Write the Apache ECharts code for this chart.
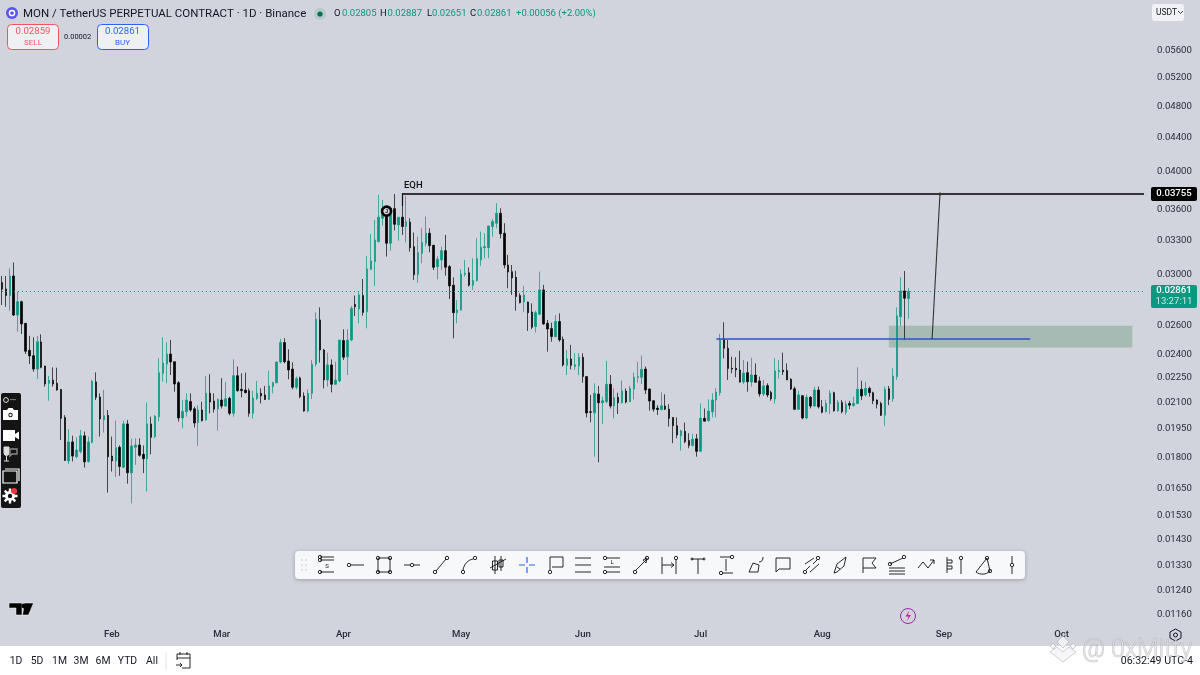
<!DOCTYPE html>
<html><head><meta charset="utf-8"><style>html,body{margin:0;padding:0;background:#d1d4dc}#c{width:1200px;height:675px}</style>
<script src="https://cdn.jsdelivr.net/npm/echarts@6/dist/echarts.min.js"></script></head><body><div id="c"></div>
<script>
const opens=[.02932,.02881,.02828,.02987,.02678,.02780,.02617,.02427,.02391,.02303,.02484,.02323,.02213,.02232,.02213,.02176,.02012,.01782,.01879,.01803,.01829,.01911,.01779,.01877,.02222,.02130,.01998,.02024,.01806,.01782,.01851,.01751,.01976,.01724,.01851,.01863,.01815,.01793,.01976,.01907,.02016,.02276,.02336,.02402,.02351,.02217,.02009,.02044,.02104,.02061,.01983,.02054,.01998,.02152,.02106,.02061,.02112,.02077,.02122,.02035,.02261,.02176,.02172,.02168,.02035,.02122,.02152,.02142,.02116,.02193,.02217,.02349,.02480,.02355,.02303,.02189,.02246,.02136,.02048,.02152,.02336,.02642,.02429,.02234,.02330,.02207,.02228,.02494,.02384,.02498,.02759,.02724,.02828,.02704,.03043,.03110,.03288,.03510,.03592,.03273,.03605,.03445,.03520,.03429,.03471,.03242,.03000,.03182,.03273,.03366,.03255,.03066,.03124,.03206,.03066,.02911,.02696,.02716,.03000,.03014,.02911,.02949,.03124,.03233,.03233,.03429,.03461,.03559,.03366,.03080,.03023,.02976,.02828,.02780,.02777,.02701,.02593,.02684,.02873,.02617,.02579,.02522,.02630,.02503,.02327,.02369,.02319,.02323,.02380,.02255,.02044,.02039,.02148,.02096,.02102,.02207,.02077,.02128,.02096,.02166,.02102,.02178,.02251,.02251,.02303,.02178,.02108,.02065,.02056,.02077,.02059,.02012,.01966,.01912,.01936,.01886,.01861,.01895,.01830,.02007,.01994,.02044,.02112,.02156,.02503,.02441,.02308,.02308,.02297,.02221,.02280,.02221,.02265,.02228,.02148,.02199,.02158,.02118,.02286,.02295,.02293,.02238,.02180,.02058,.02138,.02009,.02128,.02077,.02172,.02073,.02044,.02092,.02156,.02050,.02098,.02041,.02092,.02080,.02092,.02176,.02142,.02182,.02156,.02112,.02092,.02024,.02180,.02120,.02255,.02666,.02865,.02805];
const closes=[.02878,.02828,.02987,.02678,.02780,.02612,.02420,.02389,.02303,.02486,.02314,.02209,.02232,.02209,.02172,.02007,.01784,.01879,.01806,.01837,.01911,.01777,.01879,.02226,.02128,.02003,.02022,.01803,.01782,.01848,.01754,.01976,.01724,.01858,.01863,.01810,.01793,.01976,.01903,.02020,.02280,.02342,.02402,.02349,.02209,.02009,.02046,.02112,.02054,.01981,.02054,.01994,.02152,.02100,.02059,.02116,.02077,.02120,.02035,.02261,.02168,.02168,.02156,.02035,.02124,.02152,.02136,.02116,.02197,.02217,.02349,.02480,.02351,.02297,.02189,.02242,.02132,.02048,.02152,.02334,.02647,.02429,.02234,.02330,.02207,.02234,.02498,.02380,.02498,.02728,.02741,.02833,.02698,.03046,.03115,.03303,.03520,.03559,.03273,.03609,.03451,.03520,.03429,.03477,.03233,.02997,.03188,.03279,.03366,.03251,.03060,.03130,.03206,.03060,.02905,.02696,.02716,.03003,.03009,.02911,.02949,.03135,.03236,.03242,.03435,.03477,.03559,.03360,.03080,.03020,.02971,.02820,.02772,.02833,.02696,.02588,.02696,.02873,.02612,.02576,.02522,.02630,.02498,.02329,.02369,.02327,.02331,.02380,.02255,.02037,.02041,.02152,.02096,.02108,.02207,.02077,.02126,.02096,.02166,.02100,.02182,.02251,.02255,.02301,.02172,.02106,.02059,.02057,.02078,.02059,.02007,.01966,.01916,.01938,.01880,.01860,.01893,.01830,.02007,.01991,.02048,.02112,.02160,.02503,.02441,.02306,.02303,.02297,.02221,.02276,.02223,.02265,.02219,.02148,.02197,.02142,.02120,.02291,.02295,.02286,.02234,.02178,.02058,.02142,.02009,.02128,.02077,.02172,.02073,.02041,.02092,.02152,.02050,.02098,.02044,.02088,.02082,.02092,.02176,.02136,.02182,.02156,.02108,.02088,.02024,.02176,.02116,.02259,.02671,.02865,.02807,.02861];
const highs=[.02987,.02987,.03052,.03101,.02860,.02788,.02617,.02527,.02517,.02527,.02538,.02323,.02259,.02314,.02312,.02176,.02025,.01947,.01912,.01903,.01943,.01934,.01907,.02234,.02282,.02152,.02172,.02054,.01907,.01994,.01861,.01994,.01998,.01896,.01898,.01898,.01860,.02098,.02016,.02026,.02373,.02517,.02482,.02498,.02351,.02226,.02112,.02152,.02152,.02073,.02082,.02102,.02259,.02270,.02152,.02122,.02245,.02221,.02132,.02366,.02319,.02276,.02280,.02182,.02168,.02228,.02182,.02197,.02293,.02223,.02351,.02505,.02510,.02434,.02347,.02255,.02255,.02158,.02176,.02362,.02698,.02736,.02436,.02411,.02366,.02351,.02498,.02574,.02574,.02746,.02828,.02854,.02962,.03159,.03359,.03493,.03746,.03694,.03609,.03626,.03756,.03520,.03746,.03736,.03510,.03372,.03334,.03413,.03526,.03413,.03257,.03159,.03242,.03350,.03080,.02976,.02793,.03043,.03124,.03060,.03138,.03318,.03381,.03366,.03435,.03500,.03660,.03609,.03461,.03168,.03080,.03031,.02846,.02905,.02780,.02767,.02711,.03023,.02914,.02642,.02622,.02678,.02691,.02522,.02429,.02464,.02407,.02407,.02407,.02255,.02142,.02213,.02197,.02132,.02356,.02265,.02182,.02156,.02230,.02182,.02197,.02280,.02351,.02391,.02319,.02182,.02112,.02082,.02158,.02146,.02088,.02012,.02012,.01943,.01983,.01925,.01921,.01921,.02092,.02063,.02116,.02152,.02182,.02541,.02625,.02498,.02384,.02380,.02424,.02362,.02351,.02377,.02340,.02255,.02234,.02213,.02168,.02373,.02362,.02411,.02340,.02245,.02193,.02168,.02142,.02146,.02136,.02193,.02193,.02112,.02112,.02172,.02162,.02112,.02112,.02108,.02108,.02132,.02314,.02230,.02223,.02193,.02162,.02116,.02102,.02193,.02197,.02308,.02736,.02976,.03029,.02887];
const lows=[.02754,.02741,.02711,.02671,.02557,.02540,.02402,.02336,.02286,.02240,.02308,.02193,.02108,.02193,.02168,.01889,.01782,.01767,.01779,.01795,.01820,.01749,.01773,.01872,.02112,.01907,.01929,.01631,.01730,.01703,.01709,.01746,.01672,.01583,.01762,.01803,.01722,.01636,.01815,.01898,.01989,.02223,.02213,.02265,.02162,.01989,.01952,.02016,.02044,.01956,.01858,.01989,.01994,.02035,.02039,.01939,.02063,.02073,.02024,.02016,.02162,.02128,.02152,.02016,.02005,.02112,.02092,.02112,.02112,.02152,.02213,.02340,.02340,.02238,.02176,.02176,.02122,.02044,.02041,.02118,.02319,.02345,.02182,.02193,.02158,.02203,.02219,.02362,.02265,.02489,.02671,.02617,.02673,.02581,.03037,.02905,.03282,.03439,.03153,.03206,.03391,.03297,.03350,.03282,.03197,.02954,.02932,.03095,.03242,.03191,.03037,.02960,.03037,.02990,.02801,.02510,.02617,.02711,.02982,.02900,.02873,.02941,.03072,.03138,.03138,.03334,.03413,.03318,.03052,.02886,.02833,.02711,.02767,.02703,.02562,.02574,.02550,.02678,.02605,.02418,.02486,.02517,.02486,.02319,.02265,.02301,.02297,.02265,.02217,.02012,.01985,.01803,.01775,.01975,.02092,.02063,.02007,.02031,.02092,.02092,.02102,.02116,.02217,.02209,.02148,.02050,.02044,.02026,.02054,.02054,.01961,.01872,.01898,.01834,.01872,.01846,.01854,.01803,.01829,.01989,.01989,.02012,.02012,.02138,.02373,.02234,.02276,.02251,.02217,.02209,.02162,.02193,.02217,.02132,.02136,.02128,.02108,.02092,.02242,.02265,.02234,.02172,.02054,.02054,.02001,.02001,.02063,.02073,.02063,.02035,.02041,.02031,.02044,.02044,.02035,.02026,.02059,.02073,.02088,.02112,.02132,.02132,.02088,.02063,.02020,.01966,.02082,.02102,.02234,.02598,.02498,.02651];
const yTicks=[0.056,0.052,0.048,0.044,0.04,0.036,0.033,0.03,0.026,0.024,0.0225,0.021,0.0195,0.018,0.0165,0.0153,0.0143,0.0133,0.0124,0.0116];
const monthNames={'02-01':'Feb','03-01':'Mar','04-01':'Apr','05-01':'May','06-01':'Jun','07-01':'Jul','08-01':'Aug','09-01':'Sep','10-01':'Oct'};
const eqh=0.03755, last=0.02861, blueLevel=0.02505, zoneTop=0.026, zoneBottom=0.02446, markerPrice=0.0358;
const rangeLabels=[['1D',16],['5D',37],['1M',59.5],['3M',81],['6M',103],['YTD',127.5],['All',152]];

const categories=[];
{const d=new Date(Date.UTC(2025,0,4));for(let i=0;i<292;i++){categories.push(d.toISOString().slice(5,10));d.setUTCDate(d.getUTCDate()+1);}}
const candleData=opens.map((o,i)=>[o,closes[i],lows[i],highs[i]]);
const teal='#089981',ink='#131722',bg='#d1d4dc',F='Roboto, sans-serif';
const G=[];let shapeNo=0;
const T=(text,x,y,size,fill,o={})=>G.push({type:'text',x,y,z:50,silent:true,style:{text,fill,font:(o.w||'400')+' '+size+'px '+(o.f||F),textAlign:o.a||'left',textVerticalAlign:'middle',opacity:o.op==null?1:o.op}});
const R=(x,y,w,h,fill,o={})=>G.push({type:'rect',x,y,z:o.z||40,silent:true,shape:{x:0,y:0,width:w,height:h,r:o.r||0},style:{fill,stroke:o.s||null,lineWidth:o.lw||1,shadowBlur:o.sb||0,shadowColor:'rgba(0,0,0,.25)',shadowOffsetY:o.sb?1:0}});
const C=(x,y,r,fill,o={})=>G.push({type:'circle',x,y,z:o.z||45,silent:true,shape:{cx:0,cy:0,r},style:{fill,stroke:o.s||null,lineWidth:o.lw||1,opacity:o.op==null?1:o.op}});
const P=(d,x,y,o={})=>{const name='ic'+(shapeNo++);echarts.graphic.registerShape(name,echarts.graphic.extendPath(d,{}));
 G.push({type:name,x,y,z:o.z||45,silent:true,style:{fill:o.fill||'none',stroke:o.s===undefined?'#111':o.s,lineWidth:o.lw||1,opacity:o.op==null?1:o.op}});};
const dot=(x,y,r=1.7)=>`M${x-r} ${y}a${r} ${r} 0 1 0 ${2*r} 0a${r} ${r} 0 1 0 ${-2*r} 0`;

// header
C(12,13,6,'#5b55f0');C(12,13,2.6,'none',{s:'#fff',lw:1.5});
T('MON / TetherUS PERPETUAL CONTRACT · 1D · Binance',23,14,11.5,ink);
C(320,14,6,'#b3ccc6');C(320,14,2.6,'#0b6b5b');
const ohlc=[['O',334,ink],['0.02805',342,teal],['H',380,ink],['0.02887',387.5,teal],['L',427,ink],['0.02651',432,teal],['C',470,ink],['0.02861',477,teal],['+0.00056 (+2.00%)',516,teal]];
ohlc.forEach(a=>T(a[0],a[1],14,9.5,a[2]));
R(7.5,24.5,51,25,'#eef0f4',{r:4,s:'#f7525f'});T('0.02859',33,32,9.6,'#f7525f',{a:'center'});T('SELL',33,43,8,'#f7525f',{a:'center'});
T('0.00002',64,37,7.5,ink);
R(97.5,24.5,51,25,'#eef0f4',{r:4,s:'#2962ff'});T('0.02861',122.5,32,9.6,'#2962ff',{a:'center'});T('BUY',122.5,43,8,'#2962ff',{a:'center'});
// right scale
R(1152,4,32,17,'#f1f2f5',{r:3});T('USDT',1156,12.5,8.5,ink);P('M1178 11l2.5 2.5l2.5 -2.5',0,0,{lw:.8});
R(1151,187,46,14,'#000',{r:2});T('0.03755',1174,194,9.6,'#fff',{a:'center',w:'500'});
R(1151,285,46,23,teal,{r:2});T('0.02861',1174,291,9.6,'#fff',{a:'center',w:'500'});T('13:27:11',1174,302,9.6,'#cfeae4',{a:'center'});
// eqh
T('EQH',404,186,9.5,'#111',{w:'500'});
P('M402.5 193V206',0,0,{lw:1.2,z:20});
// left tools
R(1,393,20,115,'#141414',{r:2});
C(6,400,2.4,'none',{s:'#ddd',lw:1});T('•••',10,400,6,'#ccc');
P('M3 410h4l1.5-2h4l1.5 2h4v10h-15z',0,0,{fill:'#fff',s:null});C(10.5,415,2.2,'#141414');C(10.5,415,1.2,'#fff');
P('M3 430h12v11h-12zM15 434l4-2.5v8l-4-2.5z',0,0,{fill:'#fff',s:null});
P('M4 447h5v6a2.5 2.5 0 0 1-5 0zM6.5 456v5M4 461h5',0,0,{fill:'#ddd',s:'#ddd'});P('M10 449h7v5h-5l-2 2z',0,0,{s:'#888',lw:1.4});
P('M3 471h14v12h-14z',0,0,{s:'#fff',lw:1.2});P('M5 469h14v12',0,0,{s:'#fff',lw:1.2});
P('M10 488.5v15M2.5 496h15M4.7 490.7l10.6 10.6M15.3 490.7l-10.6 10.6',0,0,{s:'#fff',lw:2.4});C(10,496,5,'#fff');C(10,496,2.2,'#141414');C(14,491,3,'#f23645');
// bottom time axis extras
P('M9 603h13v12h-6v-7h-7zM24.5 603h9l-5 12h-6z',0,0,{fill:'#000',s:'#fff',lw:.5});C(24,606,2.4,'#000');
C(908,616,7.5,'none',{s:'#9c27b0',lw:1});P('M909 611l-3.5 5.5h3l-1.5 4.5l4-6h-3z',0,0,{fill:'#d81b9a',s:null});
// bottom bar
R(0,646,1200,29,'#fff',{z:30});
rangeLabels.forEach(r=>T(r[0],r[1],661,10.4,ink,{a:'center'}));
P('M166 652V670',0,0,{s:'#e0e3eb',z:45});
P('M177 660v-6h13v14h-8M180 652v3M187 652v3M177 658h13M176 665h6M180 663l2 2l-2 2',0,0,{lw:.9});
T('06:32:49 UTC-4',1193,661,10.6,ink,{a:'right'});
P('M1170 632l5.5-3l5.5 3v6l-5.5 3l-5.5-3z',0,0,{s:ink,lw:1});C(1175.5,635,2,'none',{s:ink});
// floating toolbar
R(295,551,730,28,'#f7f8fa',{r:4,sb:4});
[560,565,570].forEach(y=>{C(302,y,.8,'#c4c7cf');C(306,y,.8,'#c4c7cf');});
const icons=[
[327,'M-7 -8H7M-7 -5H7M-7 7H7'+dot(-7,-8)+dot(-7,-5)+dot(-7,7)],
[356,'M-5 0H8'+dot(-7,0)],
[384,'M-6 -7H6V7H-6Z'+dot(-6,-7)+dot(6,-7)+dot(-6,7)+dot(6,7)],
[412,'M-8 0H-2M2 0H8'+dot(0,0)],
[441,'M-5 6L5 -6'+dot(-6,7)+dot(6,-7)],
[469,'M-6 5C-5 -1 -1 -5 4 -6'+dot(-6,7)+dot(6,-7)],
[498,'M-3 -9V9M-5.5 -4H-.5V5H-5.5ZM3 -9V6M1 -5H5V2H1ZM-8 3L8 -6'],
[556,'M-6 5V-8H7V2H-4'+dot(-6,7)],
[583,'M-8 -7H8M-8 0H8M-8 7H8'],
[612,'M-6 -7H8M-6 7H8M-8 2H8'+dot(-7,-7)+dot(-7,7)],
[641,'M-6 6L6 -6'+dot(-6,7)+dot(6,-7)+'M2 -5L5 -2L6 -7Z'],
[669,'M-7 -8V9M7 -6V9M-7 0H5M2 -2.5L5 0L2 2.5'+dot(7,-7)],
[698,'M-6 -6H6M0 -6V9'+dot(-6,-6,1)+dot(6,-6,1)],
[726,'M-6 -8H5M-3 8H7M0 -6V6'+dot(6,-8)+dot(-5,8)],
[756,'M-7 7L-3 -2L3 0L2 7ZM3 -3C6 -3 7 -5 7 -8'],
[783,'M-7 -7H7V4H-4L-7 7Z'],
[812,'M-6 5L-2 1M1 -1L6 -6M-2 7L7 -1M-7 -1L2 -7'+dot(-7,7)+dot(6,-7)],
[841,'M-7 8L-4 -1L5 -8L3 1L-4 7ZM-4 2L-1 4'],
[869,'M-6 8V-7H7L3 -2L7 3H-6'],
[897,'M-8 3H8M-8 6H8M-8 9H8M-7 -1L6 -7'+dot(-7,-1)+dot(7,-8)],
[926,'M-8 3L-3 -3L2 3L8 -5M4 -5H8V-1'],
[949,'M-2 -8V8M-2 -5H3V-2H-2M-2 1H3V4H-2'],
[961,'M0 -5V9'+dot(0,-7)],
[983,'M-7 7L4 -7L7 6C3 10 -3 10 -7 7'+dot(4,-7)+dot(7,6)],
[1012,'M0 -9V-2M0 2V9'+dot(0,0)]];
icons.forEach(a=>P(a[1],a[0],565,{lw:.9}));
P('M-8 0H-2M2 0H8M0 -8V-2M0 2V8',527,565,{s:'#2962ff',lw:1.2});
T('S',327,566,6,'#111',{a:'center'});T('L',612,562,6,'#111',{a:'center'});
// watermark
P('M1063 636l6 6l-6 6l-6-6zM1053 643l3 3l-3 3l-3-3zM1073 643l3 3l-3 3l-3-3zM1063 652l6-5l7 5l-13 10l-13-10l7-5z',0,0,{fill:'rgba(245,245,248,.85)',s:'rgba(160,160,170,.7)',z:60,lw:.7});
G.push({type:'text',x:1082,y:651,z:60,silent:true,style:{text:'@ 0xMitty',fill:'rgba(232,233,238,.62)',stroke:'rgba(140,140,150,.6)',lineWidth:.7,font:'300 25px '+F,textVerticalAlign:'middle'}});

const chart=echarts.init(document.getElementById('c'),null,{renderer:'canvas'});
chart.setOption({
 animation:false,backgroundColor:bg,graphic:{elements:G},
 grid:{left:0,top:0,width:1146,height:623,containLabel:false},
 xAxis:{type:'category',data:categories,boundaryGap:true,axisLine:{show:false},axisTick:{show:false},splitLine:{show:false},
  axisLabel:{interval:(i,v)=>!!monthNames[v],formatter:v=>monthNames[v]||'',color:'#2a2e39',fontSize:9.6,fontFamily:F,fontWeight:500,margin:7,hideOverlap:false}},
 yAxis:{type:'log',logBase:10,min:0.01133,max:0.06457,position:'right',scale:true,axisLine:{show:false},splitLine:{show:false},
  axisTick:{show:false,customValues:yTicks},
  axisLabel:{customValues:yTicks,color:'#2a2e39',fontSize:9.6,fontFamily:F,margin:11,align:'left',formatter:v=>(+v).toFixed(5),showMinLabel:true,showMaxLabel:true}},
 series:[{type:'candlestick',data:candleData,barWidth:2,silent:true,clip:true,
  itemStyle:{color:teal,color0:'#000',borderColor:'rgba(8,153,129,.72)',borderColor0:'rgba(0,0,0,.68)',borderColorDoji:'#222',borderWidth:1},
  markArea:{silent:true,z:1,itemStyle:{color:'rgba(30,110,50,.24)'},data:[[{coord:[categories[226],zoneTop]},{coord:[categories[288],zoneBottom]}]]},
  markLine:{silent:true,symbol:'none',label:{show:false},animation:false,precision:5,data:[
   [{coord:[categories[0],last],lineStyle:{color:teal,type:[1,3],width:1}},{coord:[categories[291],last]}],
   [{coord:[categories[102],eqh],lineStyle:{color:'#000',type:'solid',width:1.6}},{coord:[categories[291],eqh]}],
   [{coord:[categories[182],blueLevel],lineStyle:{color:'#2a55c8',type:'solid',width:1.6}},{coord:[categories[262],blueLevel]}],
   [{coord:[categories[237],blueLevel],lineStyle:{color:'#333',type:'solid',width:1.1},symbol:'none'},{coord:[categories[239],eqh],symbol:'circle',symbolSize:3}]
  ]},
  markPoint:{silent:true,symbol:'circle',symbolSize:9,itemStyle:{color:'#d1d4dc',borderColor:'#000',borderWidth:2.6},label:{show:true,formatter:'J',color:'#000',fontSize:5,fontWeight:700},data:[{coord:[categories[98],markerPrice]}]}
 }]
});
</script></body></html>
